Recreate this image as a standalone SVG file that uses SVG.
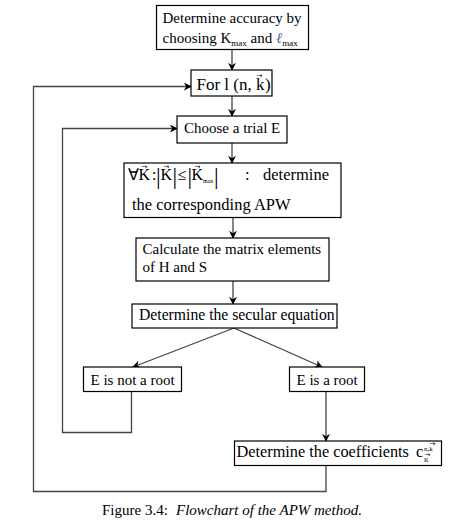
<svg xmlns="http://www.w3.org/2000/svg" width="472" height="528" viewBox="0 0 472 528">
<style>
.box{fill:#fff;stroke:#000;stroke-width:1.2}
.t{font-family:"Liberation Serif","Times New Roman",serif;fill:#000}
.c{fill:none;stroke:#444;stroke-width:1.3}
.sub{font-size:9px}
.bar{font-size:23px}
.vec{font-family:"DejaVu Sans",sans-serif;font-size:7px}
</style>
<defs>
<marker id="ah" viewBox="0 0 10 10" refX="9" refY="5" markerWidth="8" markerHeight="8" markerUnits="userSpaceOnUse" orient="auto">
<path d="M0,0 L10,5 L0,10 L3,5 Z" fill="#000"/>
</marker>
</defs>
<rect width="472" height="528" fill="#fff"/>
<g id="connectors">
<line class="c" x1="232" y1="49.5" x2="232" y2="70" marker-end="url(#ah)"/>
<line class="c" x1="232" y1="96" x2="232" y2="116" marker-end="url(#ah)"/>
<line class="c" x1="232" y1="143" x2="232" y2="163" marker-end="url(#ah)"/>
<line class="c" x1="233" y1="217.5" x2="233" y2="238" marker-end="url(#ah)"/>
<line class="c" x1="233" y1="281" x2="233" y2="304" marker-end="url(#ah)"/>
<line class="c" x1="234" y1="328" x2="133" y2="367" marker-end="url(#ah)"/>
<line class="c" x1="234" y1="328" x2="322" y2="367" marker-end="url(#ah)"/>
<line class="c" x1="326" y1="391.5" x2="326" y2="441" marker-end="url(#ah)"/>
<polyline class="c" points="131.5,391.5 131.5,432.5 62.5,432.5 62.5,128.5 177,128.5" marker-end="url(#ah)"/>
<polyline class="c" points="326,465.5 326,491.5 33.5,491.5 33.5,86.5 191,86.5" marker-end="url(#ah)"/>
</g>
<g id="n1">
<rect class="box" x="156.5" y="5.5" width="152" height="44"/>
<text class="t" x="162.5" y="22.5" font-size="15">Determine accuracy by</text>
<text class="t" x="162.5" y="43" font-size="15">choosing K<tspan class="sub" dy="3">max</tspan><tspan dy="-3"> and </tspan><tspan fill="#4a6aa8" font-style="italic">ℓ</tspan><tspan class="sub" dy="3">max</tspan></text>
</g>
<g id="n2">
<rect class="box" x="191" y="70" width="81" height="26"/>
<text class="t" x="196.5" y="89.5" font-size="17">For l (n, k<tspan class="vec" dx="-8" dy="-11.5">→</tspan><tspan dx="2.5" dy="11.5">)</tspan></text>
</g>
<g id="n3">
<rect class="box" x="177" y="116" width="110" height="27"/>
<text class="t" x="184" y="133" font-size="15">Choose a trial E</text>
</g>
<g id="n4">
<rect class="box" x="124" y="163" width="217" height="54.5"/>
<text class="t" font-size="16" y="180"><tspan x="128">∀</tspan><tspan x="138.5">K</tspan><tspan class="vec" x="141.5" dy="-11">→</tspan><tspan x="152" dy="11">:</tspan></text>
<text class="t bar" x="156" y="184">|</text>
<text class="t" font-size="16" x="160.5" y="180">K<tspan class="vec" x="163.5" dy="-11">→</tspan></text>
<text class="t bar" x="172.5" y="184">|</text>
<text class="t" font-size="16" x="177.5" y="180">≤</text>
<text class="t bar" x="187.5" y="184">|</text>
<text class="t" font-size="16" x="191.5" y="180">K<tspan class="vec" x="194.5" dy="-11">→</tspan><tspan font-size="6" x="203" dy="14">max</tspan></text>
<text class="t bar" x="214" y="184">|</text>
<text class="t" font-size="16.5" x="245" y="180">:</text>
<text class="t" font-size="16.5" x="263" y="180">determine</text>
<text class="t" x="132" y="210" font-size="16.5">the corresponding APW</text>
</g>
<g id="n5">
<rect class="box" x="136" y="238" width="193" height="43"/>
<text class="t" x="142.5" y="254" font-size="15">Calculate the matrix elements</text>
<text class="t" x="142.5" y="272" font-size="15">of H and S</text>
</g>
<g id="n6">
<rect class="box" x="132" y="304" width="205" height="24"/>
<text class="t" x="139" y="320" font-size="15.7">Determine the secular equation</text>
</g>
<g id="n7">
<rect class="box" x="83.5" y="367" width="98" height="24.5"/>
<text class="t" x="90.5" y="384.5" font-size="15">E is not a root</text>
</g>
<g id="n8">
<rect class="box" x="289.5" y="367" width="75" height="24.5"/>
<text class="t" x="296.5" y="384.5" font-size="15">E is a root</text>
</g>
<g id="n9">
<rect class="box" x="234.5" y="441" width="207" height="24.5"/>
<text class="t" x="236.5" y="457" font-size="16.3">Determine the coefficients</text>
<text class="t" x="416" y="457" font-size="16.3">c</text>
<text class="t" x="424" y="451" font-size="7">n,k<tspan class="vec" x="429.5" y="446" font-size="4">→</tspan></text>
<text class="t" x="424" y="462" font-size="6.5">K<tspan class="vec" x="424.5" y="456.5" font-size="4">→</tspan></text>
</g>
<g id="caption">
<text class="t" x="102" y="515" font-size="15" fill="#333">Figure 3.4:</text>
<text class="t" x="176" y="515" font-size="15" font-style="italic" fill="#333">Flowchart of the APW method.</text>
</g>
</svg>
